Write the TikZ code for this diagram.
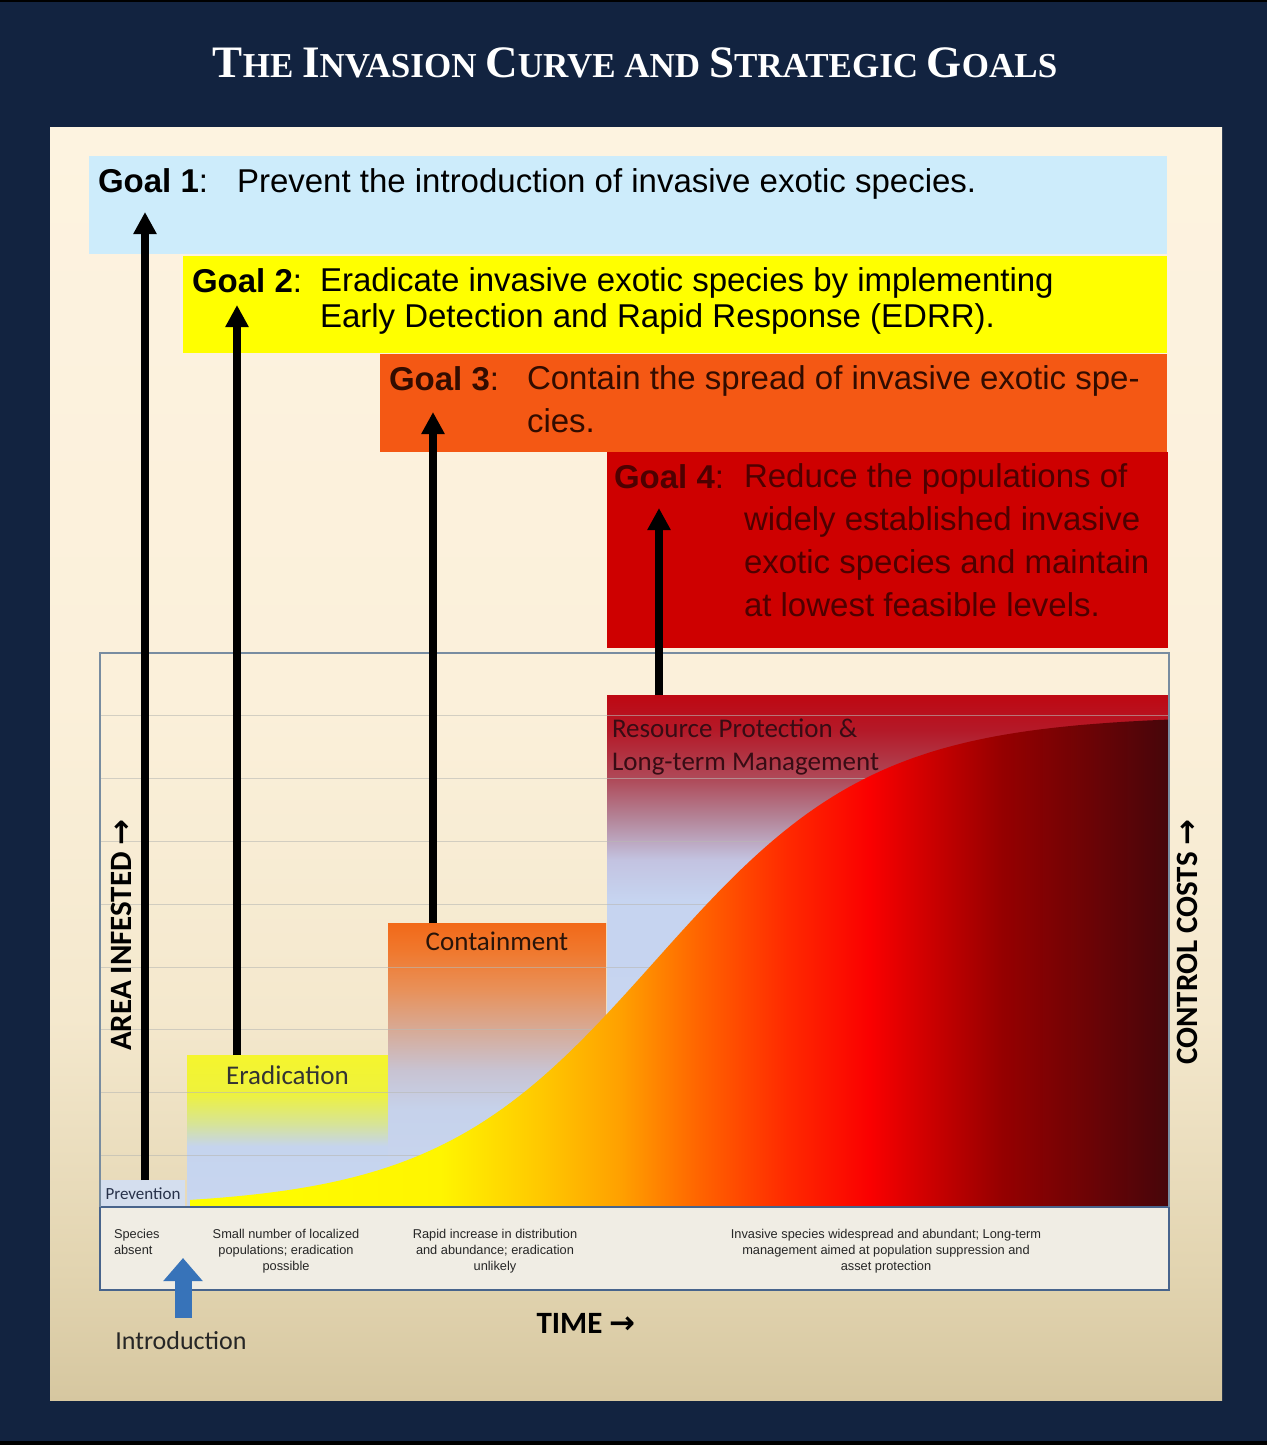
\documentclass[tikz,border=0pt]{standalone}
\usepackage{fontspec}
\setmainfont{Liberation Sans}
\newfontfamily\calibfont{Carlito}
\newfontfamily\titlefont{Liberation Serif}
\newfontfamily\arrowfont{DejaVu Sans}
\usetikzlibrary{arrows.meta,positioning}

\definecolor{navy}{RGB}{18,35,64}
\definecolor{beigeA}{RGB}{253,243,224}
\definecolor{beigeB}{RGB}{251,240,218}
\definecolor{beigeC}{RGB}{244,232,205}
\definecolor{beigeD}{RGB}{226,212,176}
\definecolor{beigeE}{RGB}{214,199,160}
\definecolor{goalblue}{RGB}{205,236,251}
\definecolor{goalyellow}{RGB}{255,255,0}
\definecolor{goalorange}{RGB}{244,88,20}
\definecolor{goalred}{RGB}{206,0,0}
\definecolor{darkorange}{RGB}{50,12,0}
\definecolor{darkred}{RGB}{78,0,0}
\definecolor{stageblue}{RGB}{200,214,240}
\definecolor{prevblue}{RGB}{212,222,238}
\definecolor{prevtext}{RGB}{40,50,75}
\definecolor{conttext}{RGB}{40,20,10}
\definecolor{restext}{RGB}{55,12,20}
\definecolor{bandgray}{RGB}{240,237,228}
\definecolor{bandline}{RGB}{72,100,140}
\definecolor{frameline}{RGB}{120,140,160}
\definecolor{gridgray}{RGB}{185,185,180}
\definecolor{introblue}{RGB}{55,115,185}
\definecolor{eradA}{RGB}{245,245,45}
\definecolor{eradB}{RGB}{238,242,60}
\definecolor{eradC}{RGB}{215,228,150}
\definecolor{eradD}{RGB}{197,212,238}
\definecolor{contA}{RGB}{242,105,25}
\definecolor{contB}{RGB}{240,120,45}
\definecolor{contC}{RGB}{232,145,90}
\definecolor{contD}{RGB}{215,170,150}
\definecolor{contE}{RGB}{200,195,210}
\definecolor{contF}{RGB}{198,210,235}
\definecolor{resA}{RGB}{190,8,18}
\definecolor{resB}{RGB}{180,25,40}
\definecolor{resC}{RGB}{175,75,90}
\definecolor{resD}{RGB}{180,135,155}
\definecolor{resE}{RGB}{195,195,225}
\definecolor{resF}{RGB}{198,212,240}
\definecolor{curveA}{RGB}{255,255,0}
\definecolor{curveB}{RGB}{255,245,0}
\definecolor{curveC}{RGB}{255,200,0}
\definecolor{curveD}{RGB}{255,160,0}
\definecolor{curveE}{RGB}{255,100,0}
\definecolor{curveF}{RGB}{255,40,0}
\definecolor{curveG}{RGB}{250,0,0}
\definecolor{curveH}{RGB}{150,0,0}
\definecolor{curveI}{RGB}{70,6,10}

\pgfdeclareverticalshading{panelshade}{100bp}{color(0bp)=(beigeE); color(25bp)=(beigeE); color(30bp)=(beigeD); color(40bp)=(beigeC); color(52.5bp)=(beigeB); color(75bp)=(beigeA); color(100bp)=(beigeA)}
\pgfdeclareverticalshading{eradshade}{100bp}{color(0bp)=(stageblue); color(25bp)=(stageblue); color(45bp)=(eradD); color(52.5bp)=(eradC); color(62.5bp)=(eradB); color(75bp)=(eradA); color(100bp)=(eradA)}
\pgfdeclareverticalshading{contshade}{100bp}{color(0bp)=(stageblue); color(25bp)=(stageblue); color(42.1bp)=(contF); color(49.1bp)=(contE); color(56.2bp)=(contD); color(63.2bp)=(contC); color(70.2bp)=(contB); color(75bp)=(contA); color(100bp)=(contA)}
\pgfdeclareverticalshading{resshade}{100bp}{color(0bp)=(stageblue); color(25bp)=(stageblue); color(55bp)=(resF); color(58.9bp)=(resE); color(62.8bp)=(resD); color(66.7bp)=(resC); color(71.6bp)=(resB); color(75bp)=(resA); color(100bp)=(resA)}
\pgfdeclarehorizontalshading{curveshade}{100bp}{color(0bp)=(curveA); color(25bp)=(curveA); color(37.8bp)=(curveB); color(42.9bp)=(curveC); color(47bp)=(curveD); color(51bp)=(curveE); color(55.6bp)=(curveF); color(59.7bp)=(curveG); color(66.4bp)=(curveH); color(75bp)=(curveI); color(100bp)=(curveI)}

\newcommand{\capsword}[2]{{\fontsize{45}{45}\selectfont #1}{\fontsize{35}{35}\selectfont #2}}
\newcommand{\rarr}{{\arrowfont →}}

\begin{document}
\begin{tikzpicture}[x=1pt, y=-1pt,
    every node/.style={inner sep=0pt, outer sep=0pt},
    goalbox/.style={rectangle, anchor=north west},
    goalfont/.style={font=\fontsize{33}{36}\selectfont},
    stagebox/.style={rectangle, shade, anchor=north west},
    stagelabel/.style={font=\calibfont\fontsize{27}{33}\selectfont},
    axislabel/.style={font=\calibfont\bfseries\fontsize{31}{31}\selectfont},
    bandtext/.style={font=\fontsize{12.8}{16}\selectfont, align=center, text=black!85},
    gridline/.style={draw=gridgray, line width=0.9pt},
    goalarrow/.style={line width=8pt, -{Triangle[width=22pt,length=22pt]}},
    introarrow/.style={draw=introblue, line width=17pt, -{Triangle[width=38pt,length=23pt]}}]
\useasboundingbox (0,0) rectangle (1267,1445);
\fill[navy] (0,0) rectangle (1267,1445);
\fill[black] (0,0) rectangle (1267,2);
\fill[black] (0,1441) rectangle (1267,1445);
\shade[shading=panelshade] (50,127) rectangle (1222,1400);

\node[text=white, font=\titlefont\bfseries\fontsize{35}{35}\selectfont] (Title) at (635,63)
  {\capsword{T}{HE} \capsword{I}{NVASION} \capsword{C}{URVE} \capsword{}{AND} \capsword{S}{TRATEGIC} \capsword{G}{OALS}};

\node[goalbox, fill=goalblue, minimum width=1078, minimum height=98] (Goal1) at (89,156) {};
\node[goalbox, fill=goalyellow, minimum width=984, minimum height=97] (Goal2) at (183,256) {};
\node[goalbox, fill=goalorange, minimum width=787, minimum height=98] (Goal3) at (380,354) {};
\node[goalbox, fill=goalred, minimum width=561, minimum height=196] (Goal4) at (607,452) {};

\node[goalfont, anchor=base west] (G1Head) at (98,192) {\textbf{Goal 1}:};
\node[goalfont, anchor=base west] (G1Text) at (237,192) {Prevent the introduction of invasive exotic species.};
\node[goalfont, anchor=base west] (G2Head) at (192,292) {\textbf{Goal 2}:};
\node[goalfont, anchor=north west, align=left] (G2Text) at (320,268)
  {Eradicate invasive exotic species by implementing\\Early Detection and Rapid Response (EDRR).};
\node[goalfont, anchor=base west, text=darkorange] (G3Head) at (389,390) {\textbf{Goal 3}:};
\node[font=\fontsize{33}{43}\selectfont, anchor=north west, align=left, text=darkorange] (G3Text) at (527,366)
  {Contain the spread of invasive exotic spe-\\cies.};
\node[goalfont, anchor=base west, text=darkred] (G4Head) at (614,488) {\textbf{Goal 4}:};
\node[font=\fontsize{33}{43}\selectfont, anchor=north west, align=left, text=darkred] (G4Text) at (744,464)
  {Reduce the populations of\\widely established invasive\\exotic species and maintain\\at lowest feasible levels.};

\node[rectangle, fill=prevblue, anchor=north west, minimum width=84, minimum height=27,
  font=\calibfont\fontsize{17}{17}\selectfont, text=prevtext] (Prev) at (101,1180) {Prevention};
\node[stagebox, shading=eradshade, minimum width=201, minimum height=152] (Erad) at (187,1055) {};
\node[stagebox, shading=contshade, minimum width=218, minimum height=284] (Contain) at (388,923) {};
\node[stagebox, shading=resshade, minimum width=562, minimum height=512] (Res) at (607,695) {};

\foreach \k in {1,...,8}
  \draw[gridline, opacity=0.6] (100,{653+62.8*\k}) -- (1169,{653+62.8*\k});

\shade[shading=curveshade] (190,1207)
  -- plot[domain=190:1169, samples=120] (\x, {1207-492/(1+exp(-(\x-655)/110))})
  -- (1169,1207) -- cycle;

\node[stagelabel, below=11pt of Erad.north, text=black!80] (EradLab) {Eradication};
\node[stagelabel, below=9pt of Contain.north, text=conttext] (ContainLab) {Containment};
\node[stagelabel, below right=24pt and 5pt of Res.north west, anchor=north west, align=left,
  text=restext] (ResLab) {Resource Protection \&\\Long-term Management};

\node[rectangle, fill=bandgray, anchor=north west, minimum width=1069, minimum height=83] (Band) at (100,1207) {};
\draw[bandline, line width=2pt] (Band.north west) rectangle (Band.south east);
\draw[frameline, line width=1.2pt] (Band.north west) -- (100,653) -- (1169,653) -- (Band.north east);

\node[bandtext, anchor=north west, align=left] (Absent) at (114,1229) {Species\\absent};
\node[bandtext, anchor=north] (Small) at (286,1229) {Small number of localized\\populations; eradication\\possible};
\node[bandtext, anchor=north] (Rapid) at (495,1229) {Rapid increase in distribution\\and abundance; eradication\\unlikely};
\node[bandtext, anchor=north] (Wide) at (886,1229) {Invasive species widespread and abundant; Long-term\\management aimed at population suppression and\\asset protection};

\coordinate (Tip1) at (145,212);
\coordinate (Tip2) at (237,305);
\coordinate (Tip3) at (433,412);
\coordinate (Tip4) at (659,508);
\draw[goalarrow] (Tip1 |- Prev.north) -- (Tip1);
\draw[goalarrow] (Tip2 |- Erad.north) -- (Tip2);
\draw[goalarrow] (Tip3 |- Contain.north) -- (Tip3);
\draw[goalarrow] (Tip4 |- Res.north) -- (Tip4);

\node[axislabel, rotate=90] (AreaLab) at (121,935) {AREA INFESTED \rarr};
\node[axislabel, rotate=90] (CostLab) at (1187,942) {CONTROL COSTS \rarr};
\node[axislabel] (TimeLab) at (586,1323) {TIME \rarr};

\node[stagelabel, font=\calibfont\fontsize{26}{26}\selectfont, text=black!85] (Intro) at (181,1341) {Introduction};
\coordinate (IntroBase) at (183,1318);
\coordinate (IntroTip) at (183,1258);
\draw[introarrow] (IntroBase) -- (IntroTip);
\end{tikzpicture}
\end{document}
